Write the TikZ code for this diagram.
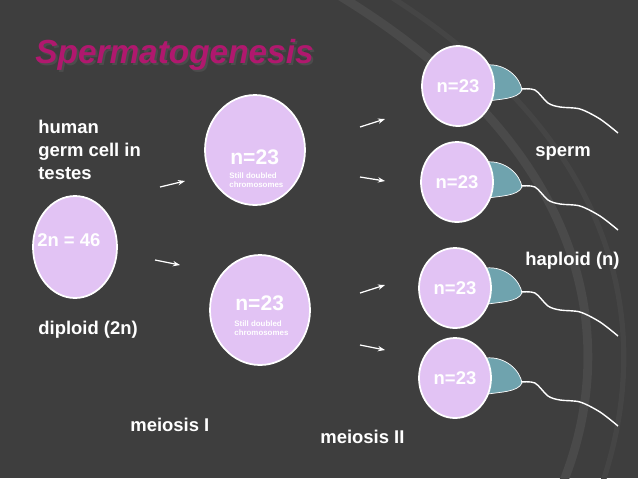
\documentclass[tikz,border=0pt]{standalone}
\usepackage{fontspec}
\setmainfont{Liberation Sans}
\usetikzlibrary{arrows.meta,shapes.geometric}
\definecolor{bg}{HTML}{3E3E3E}
\definecolor{lil}{HTML}{E2C3F4}
\definecolor{head}{HTML}{6FA3AE}
\definecolor{ttl}{HTML}{B0186E}
\begin{document}
\begin{tikzpicture}[x=0.02cm,y=-0.02cm,
  cell/.style={ellipse,draw=white,line width=1pt,fill=lil,inner sep=0},
  lbl/.style={text=white,font=\bfseries\fontsize{10.5}{13}\selectfont,anchor=west,align=left,inner sep=0},
  nt/.style={text=white,font=\bfseries\fontsize{10.5}{12}\selectfont,inner sep=0},
  tiny/.style={text=white,font=\bfseries\fontsize{4.5}{5.5}\selectfont,align=left,anchor=north west,inner sep=0},
  arr/.style={draw=white,line width=0.7pt,-{Stealth[length=4pt,width=3pt]}},
  tail/.style={draw=white,line width=0.8pt}]
\useasboundingbox (0,0) rectangle (638,478);
\fill[bg] (0,0) rectangle (638,478);
\draw[gray!18!bg,line width=5pt] (330,-10) .. controls (600,150) and (620,350) .. (560,490);
\draw[gray!10!bg,line width=3pt] (380,-10) .. controls (640,150) and (650,350) .. (600,490);
% title
\node[text=black!70,font=\bfseries\itshape\fontsize{19}{22}\selectfont,anchor=west,inner sep=0] at (37,57) {Spermatogenesis};
\node[text=ttl,font=\bfseries\itshape\fontsize{19}{22}\selectfont,anchor=west,inner sep=0] (title) at (35,55) {Spermatogenesis};
% sperm heads and tails
\foreach \y/\n in {85/h1,182/h2,288/h3,378/h4}{
  \fill[head,draw=white,line width=0.4pt] (486,\y-20) .. controls (505,\y-22) and (520,\y-8) .. (522,\y+5) .. controls (518,\y+14) and (500,\y+14) .. (488,\y+16) -- cycle;
  \draw[tail] plot[smooth] coordinates {(521,\y+4) (535,\y+5) (548,\y+18) (560,\y+22) (580,\y+24) (600,\y+34) (618,\y+48)};
}
% cells
\node[cell,minimum width=1.68cm,minimum height=2.04cm] (c0) at (75,247) {};
\node[nt,anchor=west] (t0) at (37,240) {2n = 46};
\node[cell,minimum width=2cm,minimum height=2.2cm] (c1) at (255,150) {};
\node[nt,anchor=west,font=\bfseries\fontsize{12}{14}\selectfont] (t1) at (230,157) {n=23};
\node[tiny] (s1) at (229,172) {Still doubled\\chromosomes};
\node[cell,minimum width=2cm,minimum height=2.2cm] (c2) at (260,310) {};
\node[nt,anchor=west,font=\bfseries\fontsize{12}{14}\selectfont] (t2) at (235,303) {n=23};
\node[tiny] (s2) at (234,320) {Still doubled\\chromosomes};
\node[cell,minimum width=1.44cm,minimum height=1.6cm] (c3) at (458,86) {};
\node[nt] at (c3) {n=23};
\node[cell,minimum width=1.44cm,minimum height=1.6cm] (c4) at (457,182) {};
\node[nt] at (c4) {n=23};
\node[cell,minimum width=1.44cm,minimum height=1.6cm] (c5) at (455,288) {};
\node[nt] at (c5) {n=23};
\node[cell,minimum width=1.44cm,minimum height=1.6cm] (c6) at (455,378) {};
\node[nt] at (c6) {n=23};
% labels
\node[lbl] (lh) at (38,150) {human\\germ cell in\\testes};
\node[lbl] (ld) at (38,330) {diploid (2n)};
\node[lbl] (lm1) at (130,425) {meiosis I};
\node[lbl] (lm2) at (320,437) {meiosis II};
\node[lbl] (ls) at (535,153) {sperm};
\node[lbl] (lhp) at (525,261) {haploid (n)};
% arrows
\coordinate (a1) at (160,187); \coordinate (b1) at (185,181);
\coordinate (a2) at (155,260); \coordinate (b2) at (180,265);
\coordinate (a3) at (360,127); \coordinate (b3) at (385,119);
\coordinate (a4) at (360,177); \coordinate (b4) at (385,181);
\coordinate (a5) at (360,293); \coordinate (b5) at (385,285);
\coordinate (a6) at (360,345); \coordinate (b6) at (385,350);
\foreach \i in {1,...,6}{\draw[arr] (a\i) -- (b\i);}
\end{tikzpicture}
\end{document}
